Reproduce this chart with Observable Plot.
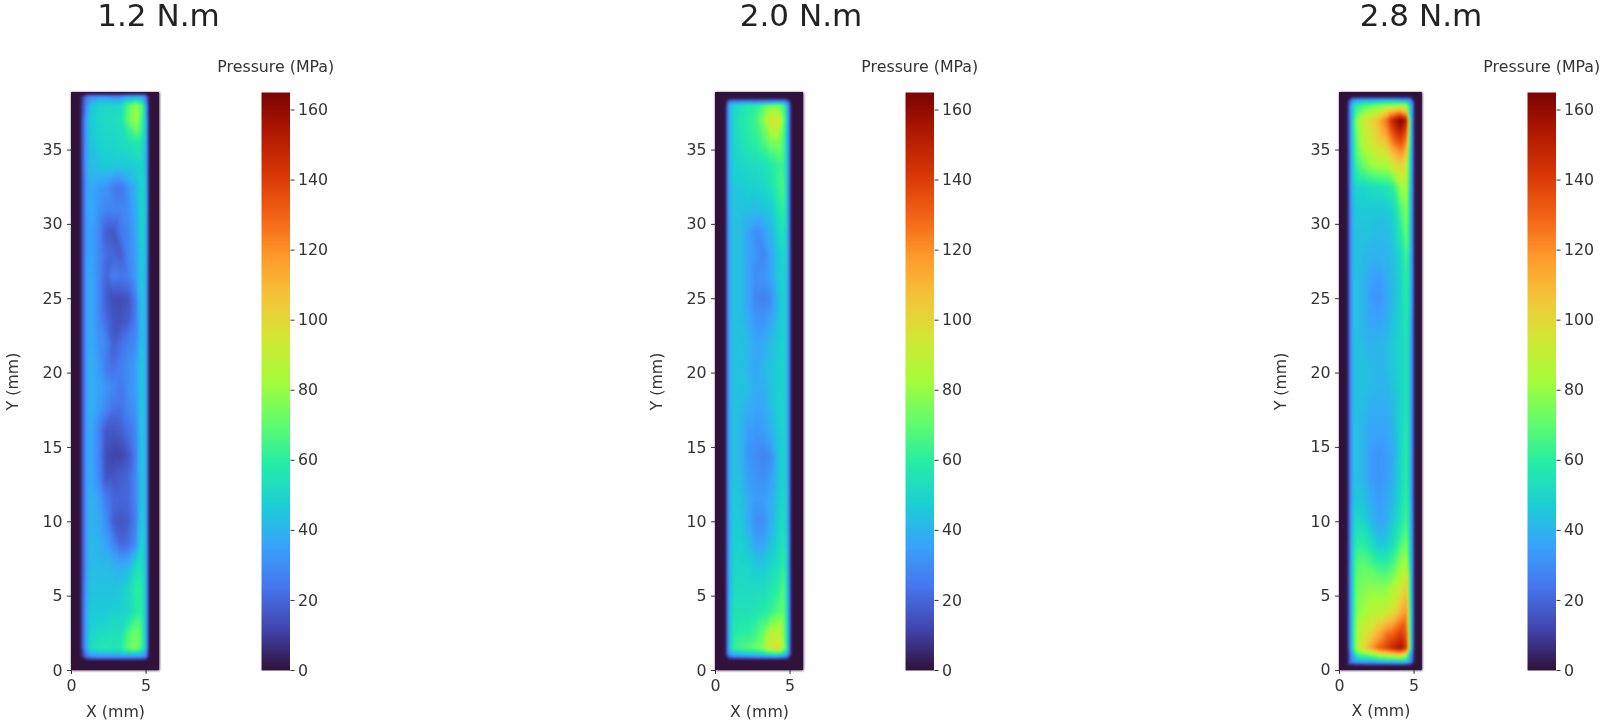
<!DOCTYPE html>
<html><head><meta charset="utf-8">
<script src="https://cdn.jsdelivr.net/npm/d3@7"></script>
<script src="https://cdn.jsdelivr.net/npm/@observablehq/plot@0.6"></script>
<style>
html,body{margin:0;padding:0;background:#fff;width:1600px;height:727px;overflow:hidden}
#page{position:relative;width:1600px;height:727px;filter:blur(0.5px)}
#page>svg,#page>figure{position:absolute;top:0;margin:0}
#page svg text{font-family:"DejaVu Sans" !important}
.title{position:absolute;top:-3px;font:31px "DejaVu Sans";color:#222;transform:translateX(-50%);white-space:nowrap}
</style></head><body><div id="page"></div>
<script>
const titles = ["1.2 N.m", "2.0 N.m", "2.8 N.m"];
const yTicks = [0, 5, 10, 15, 20, 25, 30, 35];
const xTicks = [0, 5];
const barTicks = [0, 20, 40, 60, 80, 100, 120, 140, 160];
const pressureMax = 165;
const yMax = 38.87;
const turboColors = ["#30123b","#4145ab","#4675ed","#39a2fc","#1bcfd4","#24eca6","#61fc6c","#a4fc3b","#d1e834","#f3c63a","#fe9b2d","#f36315","#d93806","#b11901","#7a0402"];
const rimPressure = 0;

const xsA = [1.0,1.3,1.8,2.3,2.8,3.3,3.8,4.3,4.7,5.0];
const xsB = [0.9,1.2,1.7,2.2,2.7,3.2,3.7,4.2,4.6,4.85];
const xsC = [0.8,1.1,1.6,2.1,2.6,3.1,3.6,4.1,4.5,4.8];
const midRows = [38,37,35.5,34,32.5,31,29.5,28,26.5,25,23.5,22,20.5,19,17.5,16,14.5,13,11.5,10,8.5,7,5.5,4,2.5,1.5];
const ysA = [38.6,...midRows,0.95];
const ysB = [38.2,...midRows,1.0];
const ysC = [38.3,...midRows,0.6];

const gridA = [
[24,30,32,32,28,28,36,38,38,24],
[30,44,50,50,50,52,68,80,70,36],
[36,46,50,52,52,54,70,82,66,42],
[36,44,48,50,50,52,54,58,54,42],
[36,42,44,46,46,46,46,48,50,42],
[34,38,34,32,26,24,32,40,50,44],
[34,38,32,28,28,28,30,38,50,44],
[34,36,30,18,16,24,28,36,50,42],
[34,36,30,22,20,18,28,34,48,42],
[34,38,30,20,26,24,26,34,46,40],
[34,38,30,18,14,14,16,26,46,40],
[34,38,30,22,16,15,18,26,44,40],
[34,38,32,28,18,22,26,30,44,40],
[34,40,34,26,22,26,30,34,46,40],
[34,40,36,32,28,24,30,34,46,40],
[34,40,34,28,22,22,28,32,46,40],
[34,38,28,16,16,18,22,28,46,40],
[34,38,28,14,12,12,16,26,46,40],
[34,38,30,16,16,18,20,28,46,40],
[34,40,36,26,20,20,20,28,46,40],
[34,40,38,30,18,16,18,26,48,40],
[34,42,40,36,28,20,22,30,50,42],
[34,42,42,42,40,38,40,52,54,42],
[36,44,44,44,44,46,50,60,60,42],
[38,46,46,46,48,48,50,58,60,42],
[38,50,52,52,54,54,66,74,66,42],
[38,52,56,58,56,58,70,76,66,42],
[24,32,34,34,34,34,34,34,34,28]];

const gridB = [
[28,34,34,36,34,36,38,40,38,26],
[36,50,54,58,60,66,74,76,66,38],
[38,50,56,60,64,76,96,96,72,40],
[38,50,54,58,60,66,74,76,66,40],
[38,48,50,52,52,54,58,62,62,40],
[38,46,46,48,48,50,54,62,66,40],
[38,44,44,44,42,44,46,56,62,40],
[36,44,42,36,30,34,40,50,56,40],
[36,44,42,36,32,28,36,46,52,40],
[36,44,42,36,30,32,36,46,50,40],
[36,44,42,36,28,26,30,42,50,40],
[36,44,42,38,32,32,36,44,50,40],
[36,44,44,42,36,38,42,46,50,40],
[36,44,44,40,36,40,44,48,50,40],
[36,44,44,42,38,38,44,48,50,40],
[36,44,42,38,36,36,42,48,50,40],
[36,44,40,34,32,34,38,46,50,40],
[36,44,40,32,30,28,30,44,50,40],
[36,44,42,34,32,30,34,44,50,40],
[36,46,44,38,34,34,38,46,52,40],
[36,46,46,38,30,30,38,48,54,40],
[36,48,48,44,36,36,44,50,56,42],
[38,50,50,50,46,46,50,54,62,42],
[38,52,52,52,52,52,56,60,68,44],
[40,54,54,54,56,58,62,68,70,46],
[40,58,60,60,64,72,88,90,74,48],
[40,62,66,68,72,78,94,100,80,48],
[26,34,36,38,40,42,44,46,40,28]];

const gridC = [
[30,40,44,46,48,50,50,48,44,30],
[40,60,66,70,74,78,80,84,80,44],
[40,76,90,100,110,125,150,165,150,46],
[40,70,86,94,100,106,125,135,120,46],
[38,62,72,80,84,84,94,102,92,44],
[38,50,50,52,54,56,60,80,84,42],
[36,46,46,46,46,46,50,66,78,42],
[36,44,44,44,42,42,46,58,74,42],
[36,44,42,40,40,40,44,52,66,42],
[36,44,40,36,34,38,42,50,62,42],
[36,44,40,34,32,36,42,50,60,42],
[36,44,40,36,36,38,44,50,58,40],
[36,44,42,40,40,42,46,50,56,40],
[36,44,44,42,40,42,46,50,56,40],
[36,44,44,42,40,40,44,50,56,40],
[36,44,42,38,38,38,42,50,56,40],
[36,44,40,36,36,36,40,50,58,40],
[36,44,40,34,32,34,38,50,60,40],
[36,44,40,34,32,34,40,50,60,40],
[36,46,44,38,34,36,42,52,62,40],
[38,52,50,42,36,38,46,56,66,42],
[40,60,60,54,46,46,54,66,74,44],
[42,68,70,68,64,62,68,80,88,46],
[42,72,76,78,78,78,84,94,106,48],
[42,74,82,86,88,90,96,110,118,50],
[42,78,92,100,112,124,130,140,132,50],
[42,80,100,116,130,138,148,156,140,50],
[28,36,38,40,42,44,46,48,46,30]];

const panels = [
  {title:titles[0], left:71,  xMax:5.9,  xs:xsA, ys:ysA, grid:gridA, rimL:0.55, rimR:5.22, rimT:38.8, rimB:0.65, barLeft:261,  titleX:158.5},
  {title:titles[1], left:715, xMax:5.9,  xs:xsB, ys:ysB, grid:gridB, rimL:0.65, rimR:5.1,  rimT:38.5, rimB:0.7,  barLeft:904.5,titleX:801},
  {title:titles[2], left:1339,xMax:5.55, xs:xsC, ys:ysC, grid:gridC, rimL:0.5,  rimR:5.05, rimT:38.6, rimB:0.3,  barLeft:1527, titleX:1421}
];

const color = {
  type:"linear",
  domain:turboColors.map((_, i) => i * pressureMax / (turboColors.length - 1)),
  range:turboColors,
  interpolate:"rgb"
};
const textSize = 15.8;
const textStyle = {fontFamily:'"DejaVu Sans"', fontSize:textSize + "px", color:"#333", background:"transparent", overflow:"visible"};
const page = document.getElementById("page");

function samples(p) {
  const pts = [];
  p.ys.forEach((y, i) => {
    pts.push({x:p.rimL, y, v:rimPressure}, {x:p.rimR, y, v:rimPressure});
    p.xs.forEach((x, j) => pts.push({x, y, v:p.grid[i][j]}));
  });
  [p.rimL, ...p.xs, p.rimR].forEach(x => pts.push({x, y:p.rimT, v:rimPressure}, {x, y:p.rimB, v:rimPressure}));
  return pts;
}

for (const p of panels) {
  const marginLeft = 71, scaleX = 88 / 5.9;
  const map = Plot.plot({
    width: marginLeft + p.xMax * scaleX + 15, height: 727,
    marginLeft, marginRight: 15, marginTop: 92, marginBottom: 57,
    style: textStyle,
    x: {domain:[0, p.xMax]}, y: {domain:[0, yMax]}, color,
    marks: [
      Plot.rect([rimPressure], {x1:0, x2:p.xMax, y1:0, y2:yMax, fill:d => d}),
      Plot.raster(samples(p), {x:"x", y:"y", fill:"v", interpolate:"barycentric"}),
      Plot.axisX({ticks:xTicks, tickSize:4, tickPadding:5, label:"X (mm)", labelAnchor:"center", labelArrow:"none", labelOffset:46, tickFormat:d => d, fontSize:textSize}),
      Plot.axisY({ticks:yTicks, tickSize:4, tickPadding:5, label:"Y (mm)", labelAnchor:"center", labelArrow:"none", labelOffset:65, tickFormat:d => d, fontSize:textSize})
    ]
  });
  map.style.position = "absolute";
  map.style.left = (p.left - marginLeft) + "px";
  map.querySelector("image").style.filter = "blur(1.1px)";
  page.appendChild(map);

  const barPlot = Plot.plot({
    width: 50 + 28.5 + 50, height: 727,
    marginLeft: 50, marginRight: 50, marginTop: 92, marginBottom: 57,
    style: textStyle,
    x: {domain:[0, 1], axis:null}, y: {domain:[0, pressureMax], axis:null}, color,
    marks: [
      Plot.raster({x1:0, x2:1, y1:0, y2:pressureMax, fill:(x, y) => y}),
      Plot.axisY({anchor:"right", ticks:barTicks, tickSize:4, tickPadding:4, label:null, tickFormat:d => d, fontSize:textSize}),
      Plot.text(["Pressure (MPa)"], {frameAnchor:"top", dy:-32, fontSize:textSize, fill:"#333"})
    ]
  });
  barPlot.style.position = "absolute";
  barPlot.style.left = (p.barLeft - 50) + "px";
  page.appendChild(barPlot);

  const t = document.createElement("div");
  t.className = "title";
  t.textContent = p.title;
  t.style.left = p.titleX + "px";
  page.appendChild(t);
}
</script></body></html>
